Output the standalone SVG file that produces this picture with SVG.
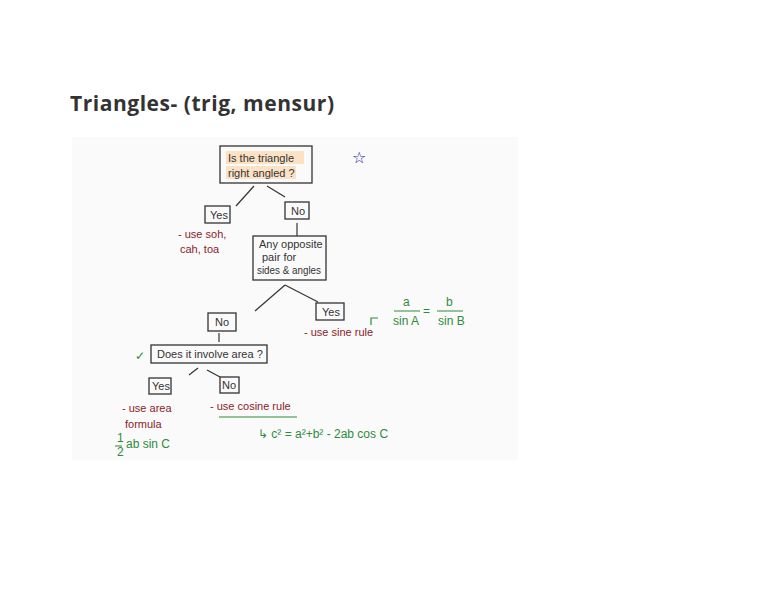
<svg xmlns="http://www.w3.org/2000/svg" width="768" height="594" viewBox="0 0 768 594">
<style>
.b{fill:none;stroke:#333;stroke-width:1.3}
.l{stroke:#333;stroke-width:1.2;fill:none}
.t{font-family:"Liberation Sans",sans-serif;font-size:11px;fill:#333}
.r{font-family:"Liberation Sans",sans-serif;font-size:11px;fill:#8b1a2b}
.g{font-family:"Liberation Sans",sans-serif;font-size:12px;fill:#2e8b3a}
</style>
<rect width="768" height="594" fill="#fff"/>
<text x="70" y="111" font-family="Open Sans,Liberation Sans,sans-serif" font-weight="bold" font-size="21" fill="#333" textLength="264" lengthAdjust="spacing">Triangles- (trig, mensur)</text>
<rect x="72" y="137" width="446" height="323" fill="#fafafa"/>
<g id="connectors">
<line class="l" x1="254" y1="186" x2="236" y2="206"/>
<line class="l" x1="267" y1="186" x2="285" y2="197"/>
<line class="l" x1="297" y1="223" x2="297" y2="236"/>
<line class="l" x1="285" y1="285" x2="255" y2="311"/>
<line class="l" x1="285" y1="285" x2="318" y2="302"/>
<line class="l" x1="219" y1="333" x2="219" y2="342"/>
<line class="l" x1="198" y1="368" x2="189" y2="375"/>
<line class="l" x1="207" y1="370" x2="220" y2="377"/>
</g>
<g id="n1"><rect x="220" y="146" width="92" height="37" fill="#fafafa" class="b"/>
<rect x="226" y="151" width="78" height="13" fill="#fbe2c4"/><rect x="226" y="166" width="70" height="13" fill="#fbe2c4"/>
<text class="t" x="228" y="162">Is the triangle</text><text class="t" x="228" y="177">right angled ?</text></g>
<g id="star"><text x="352" y="163" font-family="DejaVu Sans,sans-serif" font-size="16" fill="#2a2ab0">☆</text></g>
<g id="n2"><rect x="205" y="206" width="25" height="17" class="b"/><text class="t" x="210" y="219">Yes</text>
<text class="r" x="178" y="238">- use soh,</text><text class="r" x="180" y="253">cah, toa</text></g>
<g id="n3"><rect x="285" y="202" width="24" height="17" class="b"/><text class="t" x="291" y="215">No</text></g>
<g id="n4"><rect x="253" y="236" width="73" height="44" class="b"/>
<text class="t" x="259" y="248">Any opposite</text><text class="t" x="262" y="261">pair for</text><text class="t" x="257" y="274" font-size="10.5" textLength="64" lengthAdjust="spacingAndGlyphs">sides &amp; angles</text></g>
<g id="n5"><rect x="316" y="303" width="28" height="17" class="b"/><text class="t" x="322" y="316">Yes</text>
<text class="r" x="304" y="336">- use sine rule</text>
<path d="M371 325 V318 H378" style="stroke:#2e8b3a;fill:none;stroke-width:1.2"/>
<text class="g" x="403" y="306">a</text><line x1="394" y1="311" x2="420" y2="311" stroke="#2e8b3a"/><text class="g" x="393" y="325">sin A</text>
<text class="g" x="423" y="315">=</text>
<text class="g" x="446" y="306">b</text><line x1="437" y1="311" x2="463" y2="311" stroke="#2e8b3a"/><text class="g" x="438" y="325">sin B</text></g>
<g id="n6"><rect x="208" y="313" width="28" height="18" class="b"/><text class="t" x="215" y="326">No</text></g>
<g id="n7"><text class="g" x="135" y="360">✓</text><rect x="151" y="345" width="116" height="18" class="b"/><text class="t" x="157" y="358">Does it involve area ?</text></g>
<g id="n8"><rect x="149" y="378" width="22" height="16" class="b"/><text class="t" x="152" y="390">Yes</text>
<text class="r" x="122" y="412">- use area</text><text class="r" x="125" y="428">formula</text>
<text class="g" x="117" y="442" font-size="7">1</text><line x1="115" y1="446" x2="122" y2="446" stroke="#2e8b3a"/><text class="g" x="117" y="456" font-size="7">2</text>
<text class="g" x="126" y="448">ab sin C</text></g>
<g id="n9"><rect x="220" y="377" width="19" height="16" class="b"/><text class="t" x="222" y="389">No</text>
<text class="r" x="210" y="410">- use cosine rule</text>
<line x1="219" y1="417" x2="297" y2="417" stroke="#2e8b3a" stroke-width="1.2"/>
<text class="g" x="258" y="438">↳ c² = a²+b² - 2ab cos C</text></g>
</svg>
